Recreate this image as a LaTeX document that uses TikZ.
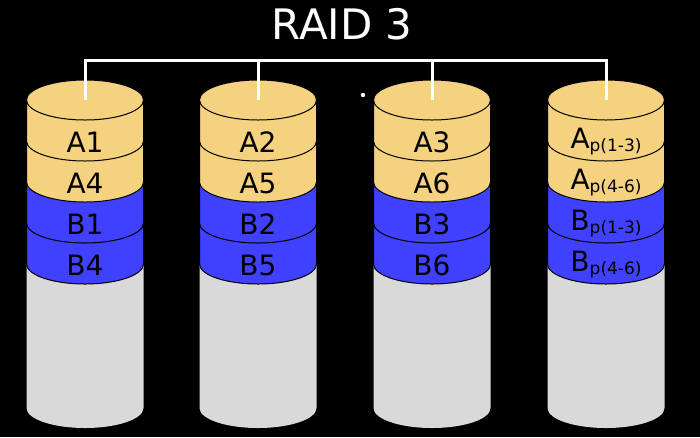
\documentclass[tikz,border=0pt]{standalone}
\usepackage{fontspec}
\setmainfont{DejaVu Sans}
\definecolor{ya}{HTML}{F4D280}
\definecolor{bb}{HTML}{4040FF}
\definecolor{gg}{HTML}{D9D9D9}
\begin{document}
\begin{tikzpicture}[x=1pt,y=-1pt,
  lab/.style={font=\fontsize{28}{28}\selectfont, text=black, inner sep=0pt},
  band/.style={draw=black, line width=1pt},
  wire/.style={draw=white, line width=3pt}]
\fill[black] (0,0) rectangle (700,437);
\useasboundingbox (0,0) rectangle (700,437);
\node[text=white, font=\fontsize{42}{42}\selectfont] (title) at (342,24) {RAID 3};
\def\rx{58.5}\def\ry{20}
\foreach \cx/\n/\la/\lb/\lc/\ld in {85/1/A1/A4/B1/B4, 258/2/A2/A5/B2/B5, 432/3/A3/A6/B3/B6, 606/4/{A\raisebox{-3pt}{\fontsize{17}{17}\selectfont p(1-3)}}/{A\raisebox{-3pt}{\fontsize{17}{17}\selectfont p(4-6)}}/{B\raisebox{-3pt}{\fontsize{17}{17}\selectfont p(1-3)}}/{B\raisebox{-3pt}{\fontsize{17}{17}\selectfont p(4-6)}}}{
  \fill[gg] (\cx-\rx,264) -- (\cx-\rx,408) arc[start angle=180,end angle=0,x radius=\rx,y radius=\ry] -- (\cx+\rx,264) -- cycle;
  \foreach \k/\col in {3/bb,2/bb,1/ya,0/ya}{
    \pgfmathsetmacro{\yk}{100+41*\k}
    \path[band, fill=\col] (\cx-\rx,\yk) -- (\cx-\rx,\yk+41) arc[start angle=180,end angle=0,x radius=\rx,y radius=\ry] -- (\cx+\rx,\yk) arc[start angle=0,end angle=-180,x radius=\rx,y radius=\ry] -- cycle;
  }
  \draw[band, fill=ya] (\cx,100) ellipse[x radius=\rx,y radius=\ry];
  \node[lab] (d\n a) at (\cx,142) {\la};
  \node[lab] (d\n b) at (\cx,183) {\lb};
  \node[lab] (d\n c) at (\cx,224) {\lc};
  \node[lab] (d\n d) at (\cx,265) {\ld};
  \coordinate (t\n) at (\cx,100);
  \coordinate (h\n) at (\cx,60);
}
\draw[wire, line join=miter] (t1) -- (h1) -- (h4) -- (t4);
\draw[wire] (t2) -- (h2);
\draw[wire] (t3) -- (h3);
\fill[white] (363,95) circle (2.2);
\end{tikzpicture}
\end{document}
